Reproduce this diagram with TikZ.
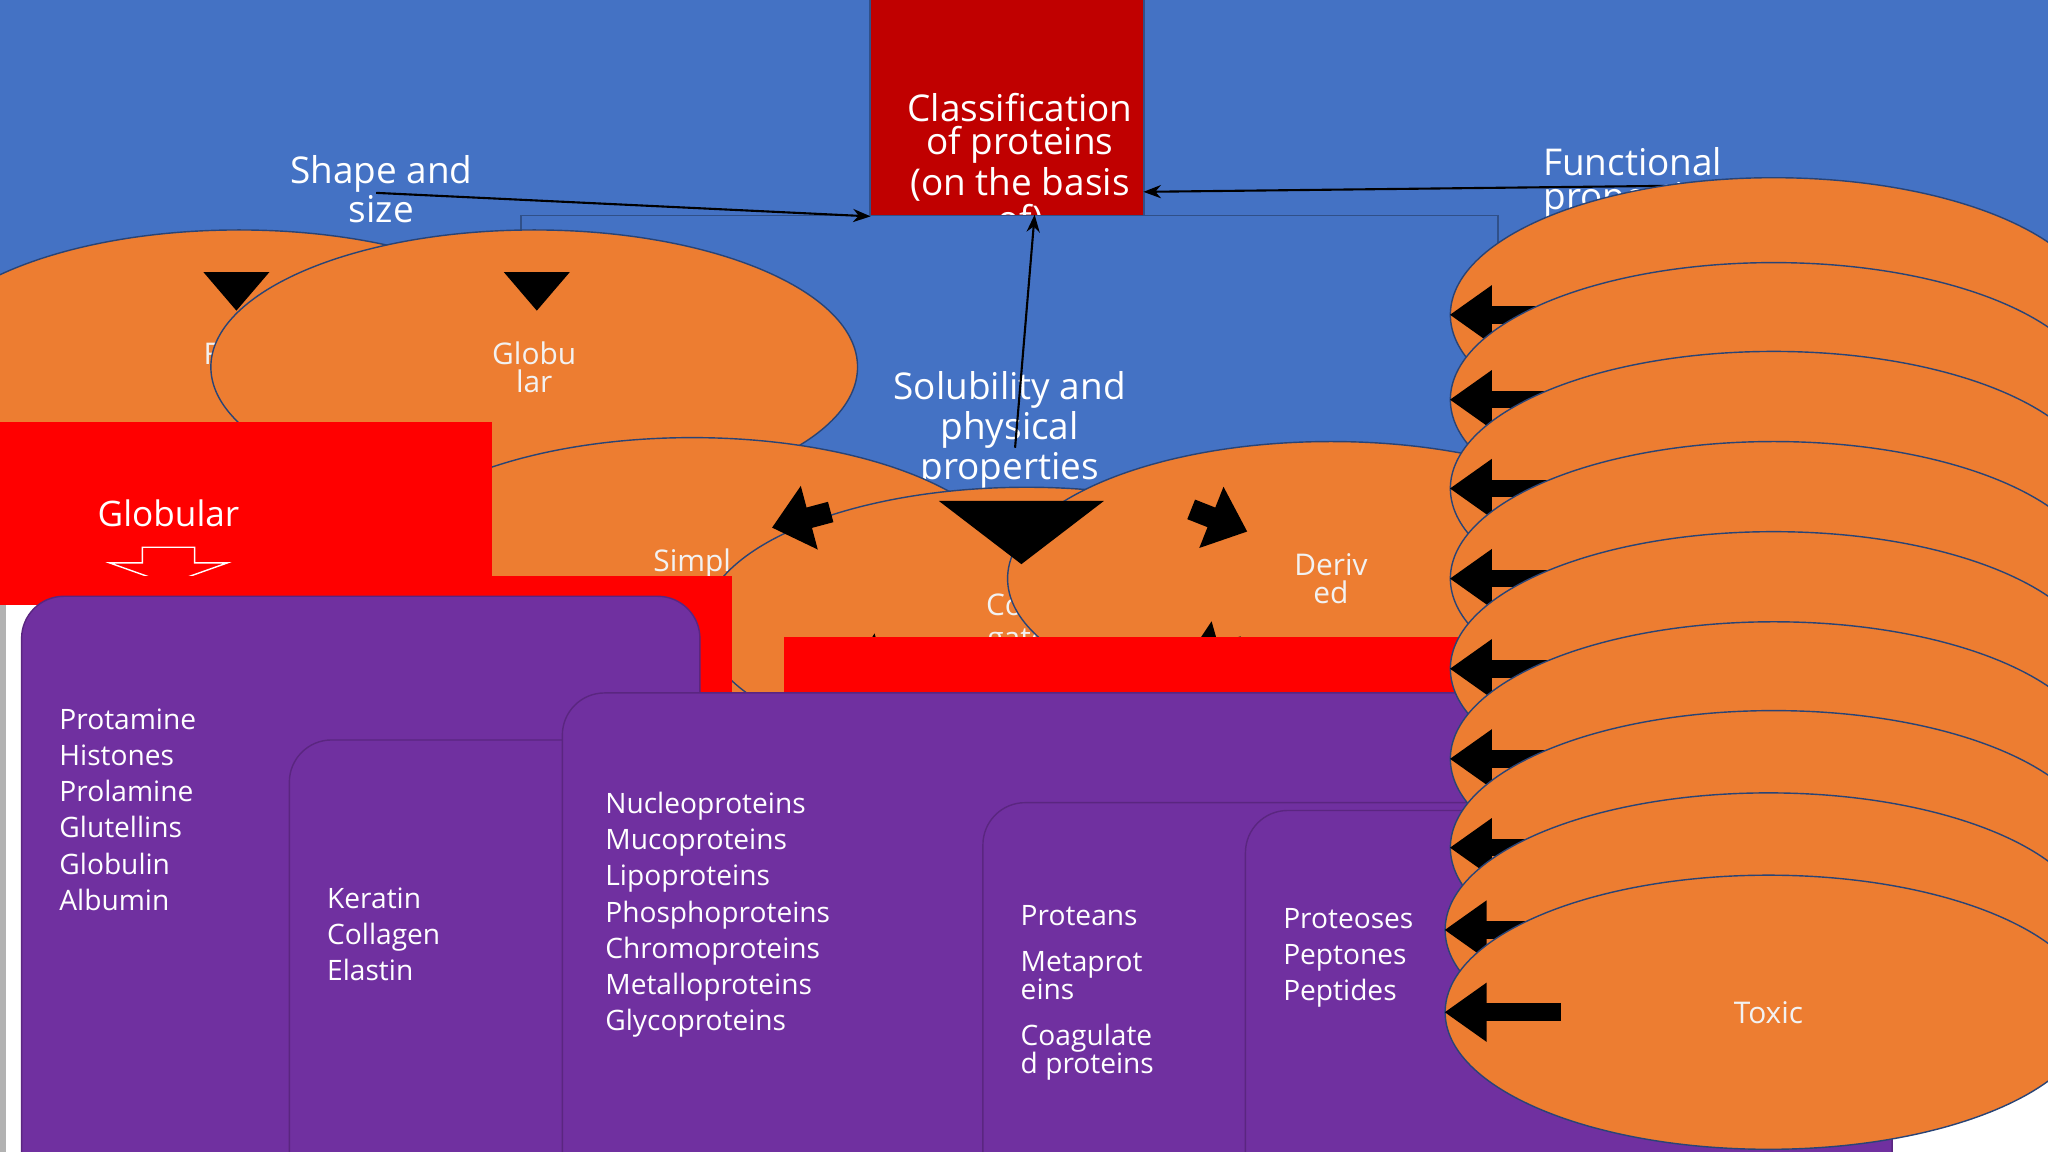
\documentclass[tikz,border=0pt]{standalone}
\usepackage{fontspec}
\setmainfont{Open Sans}
\usetikzlibrary{arrows.meta,shapes.geometric}
\definecolor{boxblue}{RGB}{68,114,196}
\definecolor{ovalred}{RGB}{192,0,0}
\definecolor{orng}{RGB}{237,125,49}
\definecolor{purp}{RGB}{112,48,160}
\tikzset{
  blue box/.style={draw=boxblue!70!black, fill=boxblue, text=white, minimum width=278, minimum height=122, align=center, font=\fontsize{10.5}{9.5}\selectfont},
  orange oval/.style={ellipse, draw=boxblue!60!black, fill=orng, text=white!90!gray, minimum width=184, minimum height=78, align=center, font=\fontsize{8.5}{8}\selectfont},
  purple box/.style={draw=purp!80!black, fill=purp, rounded corners=12pt, anchor=north west},
  list text/.style={text=white, align=left, font=\fontsize{8}{10.3}\selectfont, anchor=north west},
  red label/.style={fill=red, text=white, minimum width=184, minimum height=52, align=center, font=\fontsize{10}{9}\selectfont},
  fat/.style={line width=6pt, -{Triangle[width=18pt,length=11pt]}},
  thin link/.style={-{Stealth[length=5pt]}, semithick}
}
\newcommand{\redarrow}[3]{% x centre, top y, bottom y
  \fill[red, draw=white] (#1-20,#2) -- (#1+20,#2) -- (#1+20,#2+12) -- (#1+45,#2+12) -- (#1,#3) -- (#1-45,#2+12) -- (#1-20,#2+12) -- cycle;}
\begin{document}
\begin{tikzpicture}[x=0.013061cm, y=-0.013061cm]
\useasboundingbox (0,0) rectangle (1568,882);
\fill[white] (0,0) rectangle (1568,882);
\draw[gray!60, line width=2pt] (2,0) -- (2,882);

% top level
\node (root) [ellipse, draw=boxblue!60!black, fill=ovalred, text=white, minimum width=366, minimum height=160, align=center, font=\fontsize{10.5}{9.5}\selectfont] at (781,127)
  {Classification\\of proteins\\(on the basis\\of)};
\node (shape) [blue box] at (292,145) {Shape and\\size};
\node (func) [blue box] at (1250,140) {Functional\\properties};
\node (solub) [blue box] at (773,329) {Solubility and\\physical\\properties};
\draw[thin link] ([yshift=-0.27cm]root.west) -- ([yshift=-0.27cm]shape.east);
\draw[thin link] ([yshift=-0.2cm]root.east) -- ([yshift=-0.09cm]func.west);
\draw[thin link] ([xshift=-0.05cm]root.south) -- ([xshift=0.25cm]solub.north);

% shape and size
\node (fibrous) [orange oval] at (183,281) {Fibro\\us};
\node (globu) [orange oval] at (409,281) {Globu\\lar};
\draw[fat] (181,210) -- (181,238);
\draw[fat] (411,210) -- (411,238);

% solubility
\node (simple) [orange oval] at (530,440) {Simpl\\e};
\node (conj) [orange oval] at (786,478) {Conju\\gated};
\node (deriv) [orange oval] at (1019,443) {Deriv\\ed};
\draw[fat] (636,392) -- (591,404);
\draw[line width=14pt, -{Triangle[width=46pt,length=18pt]}] (782,390) -- (782,432);
\draw[fat] (912,390) -- (955,407);
\draw[fat] (362,410) -- (310,401);
\draw[fat] (466,480) -- (418,492);
\draw[fat] (696,503) -- (649,518);
\draw[fat] (952,495) -- (906,508);
\draw[fat] (1055,497) -- (1055,520);

% sub-classes
\node (glob) [red label] at (129,393) {Globular};
\redarrow{129}{419}{447}
\node (scl) [red label] at (313,511) {Scleropro\\teins};
\redarrow{313}{537}{565}
\node (prim) [red label] at (848,558) {Primary\\derived};
\redarrow{848}{583}{613}
\node (sec) [red label] at (1045,558) {Secondar\\y derived};
\redarrow{1045}{583}{613}

\node (globlist) [purple box, minimum width=193, minimum height=329] at (16,456) {};
\node (globtext) [list text] at (36,533) {Protamine\\Histones\\Prolamine\\Glutellins\\Globulin\\Albumin};
\node (scllist) [purple box, minimum width=197, minimum height=298] at (221,566) {};
\node (scltext) [list text] at (241,670) {Keratin\\Collagen\\Elastin};
\node (conjlist) [purple box, minimum width=301, minimum height=336] at (430,530) {};
\node (conjtext) [list text] at (454,597) {Nucleoproteins\\Mucoproteins\\Lipoproteins\\Phosphoproteins\\Chromoproteins\\Metalloproteins\\Glycoproteins};
\node (primlist) [purple box, minimum width=188, minimum height=234] at (752,614) {};
\node (primtext) [list text, font=\fontsize{8}{8}\selectfont] at (772,684) {Proteans\\[5pt]Metaprot\\eins\\[5pt]Coagulate\\d proteins};
\node (seclist) [purple box, minimum width=184, minimum height=225] at (953,620) {};
\node (sectext) [list text] at (973,686) {Proteoses\\Peptones\\Peptides};

% functional
\draw[line width=13pt, -{Triangle[width=44pt,length=18pt]}] (1187,805) -- (1187,203);
\foreach \lbl [count=\i] in {Defens\\e, Contra\\ctile, Respir\\atory, Structu\\ral, Enzym\\es, Hormo\\nes, Nutrie\\nts, Regula\\tory, Toxic}{
  \pgfmathsetmacro{\yy}{{0,241,306,374,443,512,581,649,712,775}[\i]}
  \pgfmathsetmacro{\xx}{\i>7 ? 1354 : 1358}
  \node (f\i) [orange oval] at (\xx,\yy) {\lbl};
  \draw[line width=5pt, -{Triangle[width=16pt,length=12pt]}] (1195,\yy) -- (f\i.west);
}
\end{tikzpicture}
\end{document}
